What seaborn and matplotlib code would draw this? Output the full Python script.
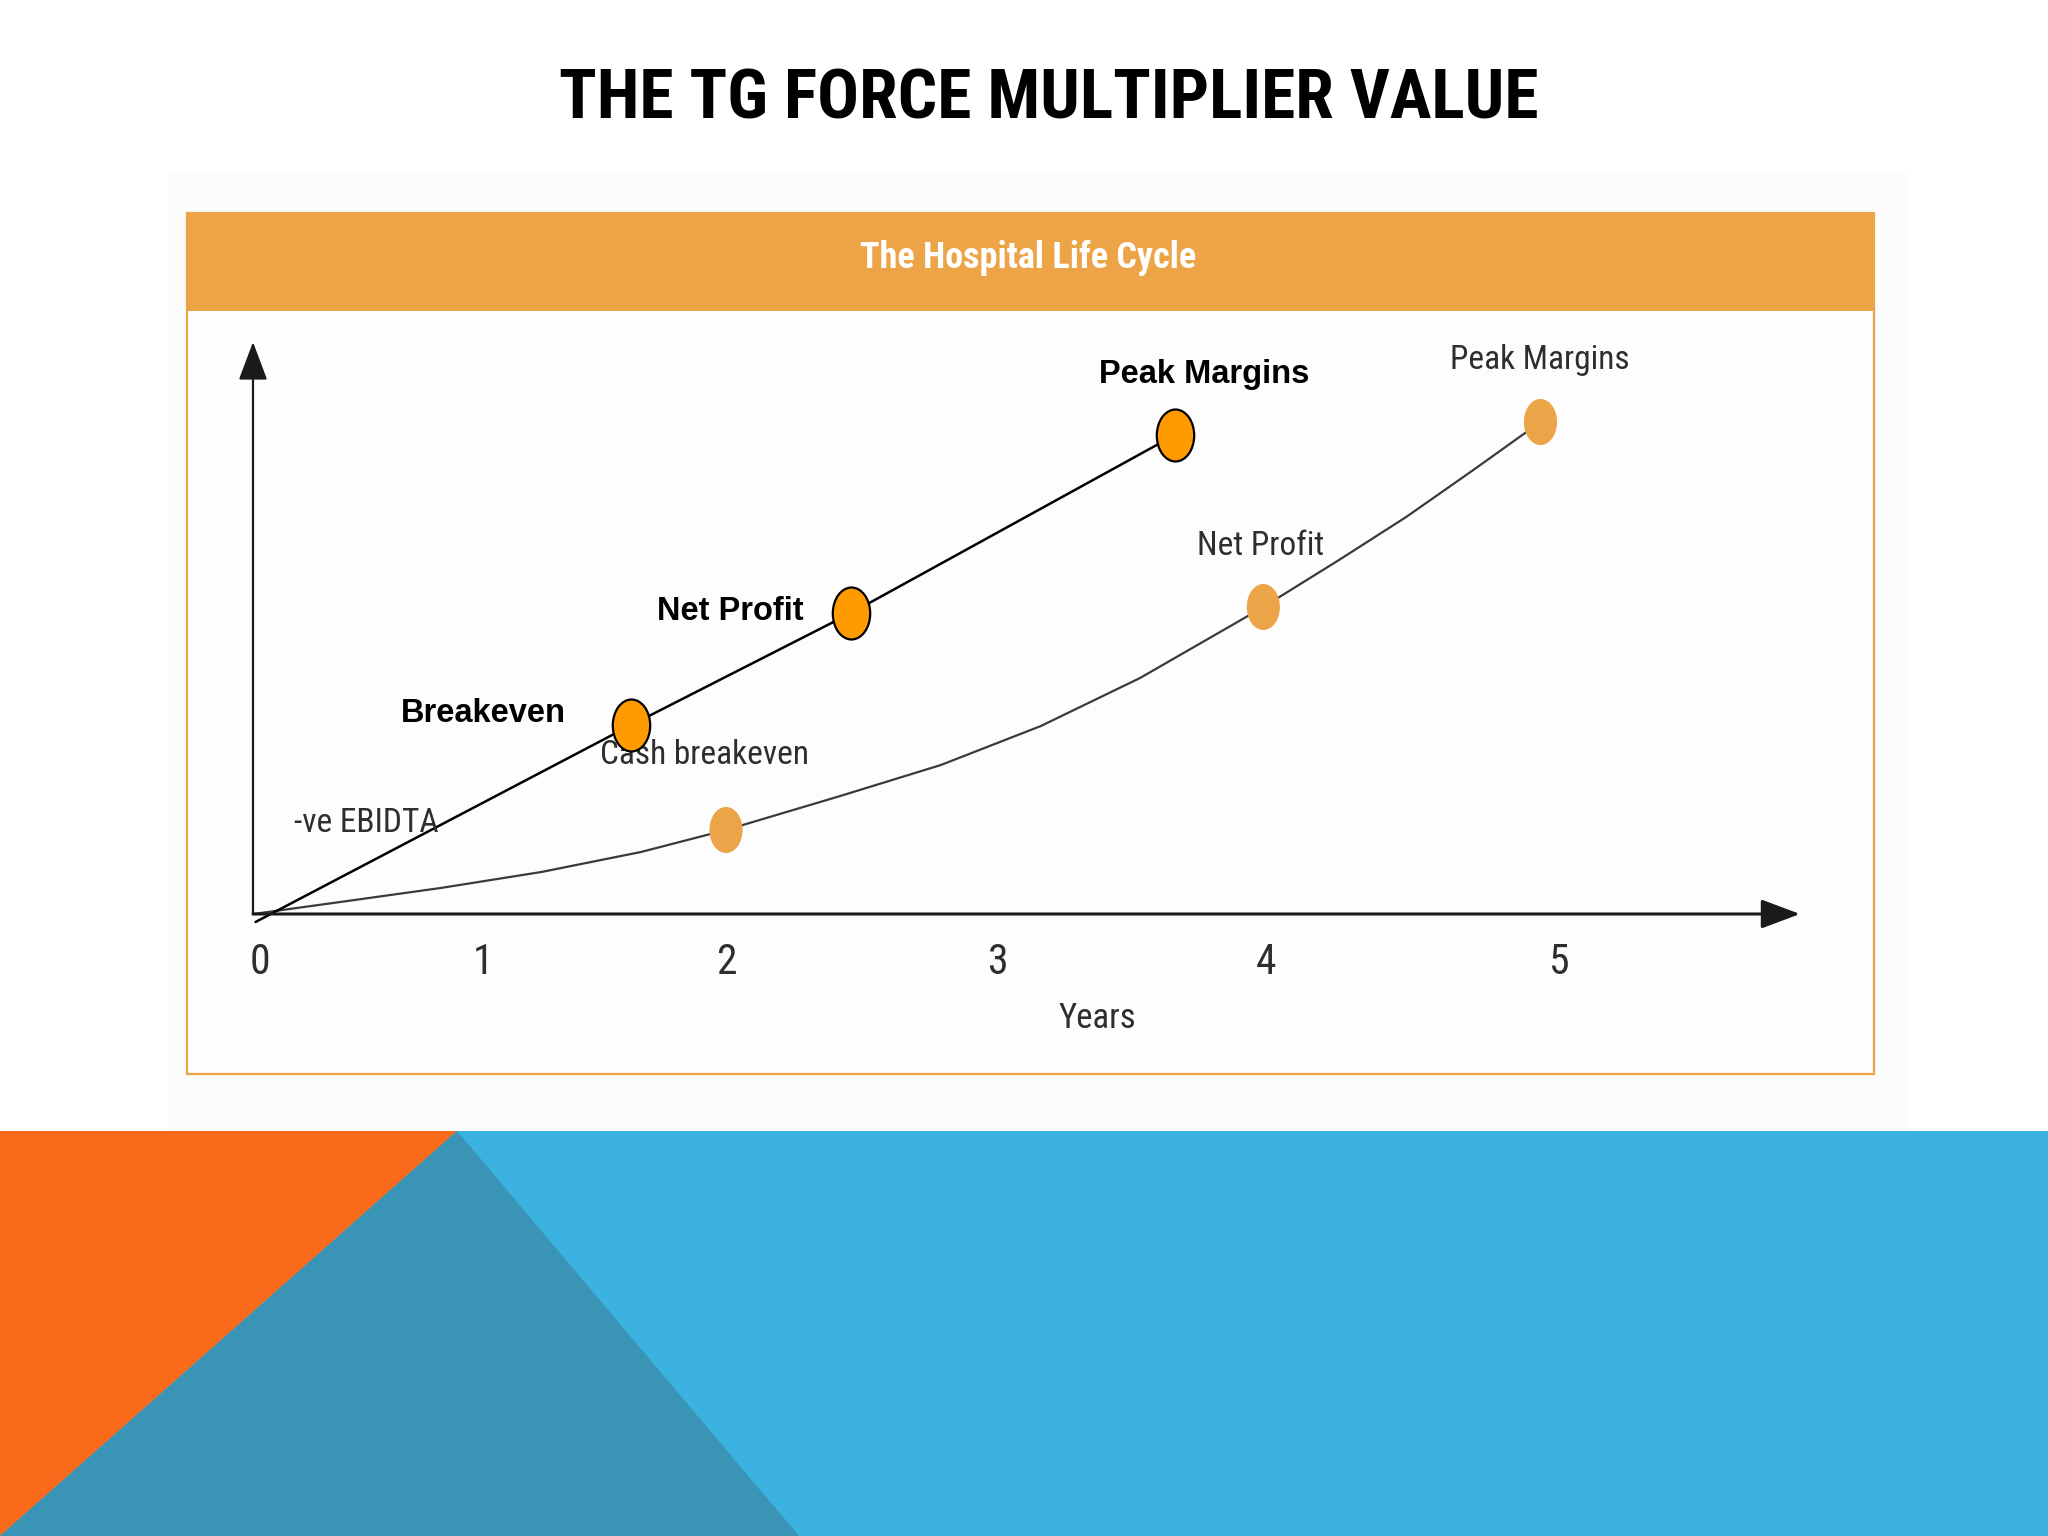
import numpy as np
import matplotlib
matplotlib.use('Agg')
import matplotlib.pyplot as plt
import seaborn as sns
from matplotlib.path import Path
from matplotlib.markers import MarkerStyle
from matplotlib.patches import Polygon, Rectangle
from matplotlib.transforms import Affine2D
from matplotlib import font_manager

# ---- data ----
years = [0, 1, 2, 3, 4, 5]
year_labels = ['0', '1', '2', '3', '4', '5']

# hospital life cycle curve (lower, grey)
curve_years = [-0.03, 0.36, 0.81, 1.24, 1.65, 2.0, 2.42, 2.79, 3.16, 3.53, 3.9, 3.99, 4.25, 4.48, 4.71, 4.94]
curve_vals = [0, 0.24, 0.52, 0.84, 1.24, 1.68, 2.36, 2.98, 3.76, 4.72, 5.86, 6.14, 7.08, 7.94, 8.88, 9.84]
curve_pt_years = [2.0, 3.99, 4.94]
curve_pt_vals = [1.68, 6.14, 9.84]
curve_pt_labels = ['Cash breakeven', 'Net Profit', 'Peak Margins']

# TG force multiplier line (upper, black)
tg_years = [-0.02, 1.61, 2.46, 3.66]
tg_vals = [-0.16, 3.78, 6.02, 9.58]
tg_pt_years = [1.61, 2.46, 3.66]
tg_pt_vals = [3.78, 6.02, 9.58]
tg_pt_labels = ['Breakeven', 'Net Profit', 'Peak Margins']

# ---- fonts ----
sns.set_theme(style='white')
names = {f.name for f in font_manager.fontManager.ttflist}
NARROW, STRETCH = 'DejaVu Sans', 'condensed'
for cand in ['Liberation Sans Narrow', 'Roboto Condensed', 'Open Sans Condensed', 'Noto Sans Condensed']:
    if cand in names:
        NARROW, STRETCH = cand, 'normal'
        break
plt.rcParams['font.family'] = ['Liberation Sans', 'DejaVu Sans']

W, H = 2048, 1536
fig = plt.figure(figsize=(W / 100, H / 100), dpi=100)
fig.patch.set_facecolor('white')

# background slide layer in pixel units
bg = fig.add_axes([0, 0, 1, 1], zorder=0)
bg.set_xlim(0, W)
bg.set_ylim(H, 0)
bg.axis('off')
bg.add_patch(Rectangle((168, 172), 1740, 958, color='#fcfcfc', lw=0))
bg.add_patch(Rectangle((0, 1131), W, H - 1131, color='#3cb2e0', lw=0))
bg.add_patch(Polygon([(0, 1131), (457, 1131), (0, 1536)], closed=True, color='#f96b1b', lw=0))
bg.add_patch(Polygon([(457, 1131), (0, 1536), (799, 1536)], closed=True, color='#3a94b5', lw=0))
bg.add_patch(Rectangle((187, 213), 1687, 861, facecolor='#fefdfe', edgecolor='#eca447', lw=1.6))
bg.add_patch(Rectangle((187, 213), 1687, 98, color='#eca447', lw=0))
bg.text(1049, 100, 'THE TG FORCE MULTIPLIER VALUE', ha='center', va='center',
        fontsize=50, fontweight='bold', family=[NARROW, 'DejaVu Sans'], fontstretch=STRETCH, color='black')
bg.text(1028, 258, 'The Hospital Life Cycle', ha='center', va='center',
        fontsize=26, fontweight='bold', family=[NARROW, 'DejaVu Sans'], fontstretch=STRETCH, color='white')

# ---- chart axes ----
AX_LEFT, AX_RIGHT, AX_BASE, AX_TOP = 253, 1800, 914, 342
ax = fig.add_axes([AX_LEFT / W, 1 - AX_BASE / H, (AX_RIGHT - AX_LEFT) / W, (AX_BASE - AX_TOP) / H], zorder=2)
ax.patch.set_alpha(0)

# uneven year spacing of the original drawing
knot_years = [-1, 0, 1, 2, 3, 4, 5, 6]
knot_px = [37, 260, 483, 726, 998, 1266, 1558, 1850]


def fwd(x):
    return np.interp(x, knot_years, knot_px)


def inv(p):
    return np.interp(p, knot_px, knot_years)


ax.set_xscale('function', functions=(fwd, inv))
ax.set_xlim(inv(AX_LEFT), inv(AX_RIGHT))
ax.set_ylim(0, (AX_BASE - AX_TOP) / 50)

ellipse = MarkerStyle(Path.unit_circle().transformed(Affine2D().scale(0.72, 1.0)))

sns.lineplot(x=curve_years, y=curve_vals, ax=ax, color='#3a3a3a', lw=1.6, sort=False, zorder=3)
sns.lineplot(x=tg_years, y=tg_vals, ax=ax, color='black', lw=1.8, sort=False, clip_on=False, zorder=3)
sns.scatterplot(x=curve_pt_years, y=curve_pt_vals, ax=ax, marker=ellipse, s=1100,
                color='#eba548', edgecolor='none', linewidth=0, zorder=5, legend=False)
sns.scatterplot(x=tg_pt_years, y=tg_pt_vals, ax=ax, marker=ellipse, s=1400,
                color='#ff9a00', edgecolor='black', linewidth=1.6, zorder=6, legend=False)

narrow_kw = dict(family=[NARROW, 'DejaVu Sans'], fontstretch=STRETCH, color='#2e2e2e', fontsize=24)
for x, y, lab, off in zip(curve_pt_years, curve_pt_vals, curve_pt_labels, [(-21, 75), (-3, 61), (-1, 62)]):
    ax.annotate(lab, xy=(x, y), xytext=off, textcoords='offset pixels', ha='center', va='center', **narrow_kw)
ax.text(0.475, 1.82, '-ve EBIDTA', ha='center', va='center', **narrow_kw)

bold_kw = dict(fontsize=23.5, fontweight='bold', color='black')
ax.annotate(tg_pt_labels[0], xy=(tg_pt_years[0], tg_pt_vals[0]), xytext=(-65, 12), textcoords='offset pixels',
            ha='right', va='center', **bold_kw)
ax.annotate(tg_pt_labels[1], xy=(tg_pt_years[1], tg_pt_vals[1]), xytext=(-47, 2), textcoords='offset pixels',
            ha='right', va='center', **bold_kw)
ax.annotate(tg_pt_labels[2], xy=(tg_pt_years[2], tg_pt_vals[2]), xytext=(29, 61), textcoords='offset pixels',
            ha='center', va='center', **bold_kw)

# axes drawn as arrows
for s in ax.spines.values():
    s.set_visible(False)
ax.annotate('', xy=(1, 0), xytext=(0, 0), xycoords='axes fraction',
            arrowprops=dict(arrowstyle='-|>,head_length=1.2,head_width=0.45', lw=2.2, color='#1a1a1a',
                            mutation_scale=20, shrinkA=0, shrinkB=0))
ax.annotate('', xy=(0, 1), xytext=(0, 0), xycoords='axes fraction',
            arrowprops=dict(arrowstyle='-|>,head_length=1.2,head_width=0.45', lw=1.6, color='#1a1a1a',
                            mutation_scale=20, shrinkA=0, shrinkB=0))

ax.set_xticks(years)
ax.set_xticklabels(year_labels, family=[NARROW, 'DejaVu Sans'], fontstretch=STRETCH, fontsize=30, color='#2e2e2e')
ax.tick_params(axis='x', length=0, pad=20)
ax.set_yticks([])
ax.set_xlabel('Years', family=[NARROW, 'DejaVu Sans'], fontstretch=STRETCH, fontsize=25, color='#2e2e2e')
ax.xaxis.set_label_coords((1097 - AX_LEFT) / (AX_RIGHT - AX_LEFT), -(1002 - AX_BASE) / (AX_BASE - AX_TOP))
ax.set_ylabel('')

fig.savefig('out.png', dpi=100)
